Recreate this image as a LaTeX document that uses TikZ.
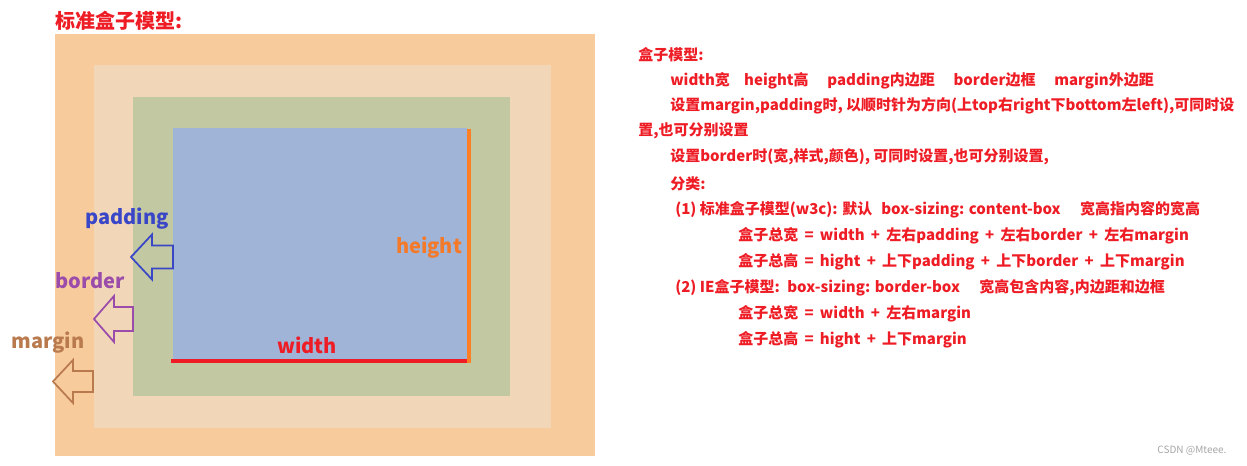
\documentclass[tikz,border=0pt]{standalone}
\usepackage{fontspec}
\setmainfont{Noto Sans CJK SC}
\definecolor{marginbg}{HTML}{F8CB9D}
\definecolor{borderbg}{HTML}{F1D6B7}
\definecolor{paddingbg}{HTML}{C2C8A1}
\definecolor{contentbg}{HTML}{9FB4D6}
\definecolor{boxred}{HTML}{EE1C25}
\definecolor{lineorange}{HTML}{FF7F27}
\definecolor{tagorange}{HTML}{F47A2A}
\definecolor{padblue}{HTML}{3A46C8}
\definecolor{borderpurple}{HTML}{9B4CAB}
\definecolor{marginbrown}{HTML}{B97A4E}
\begin{document}
\begin{tikzpicture}[x=0.75pt, y=-0.75pt,
    note/.style={anchor=west, inner sep=0pt, text=boxred, font=\fontsize{11.25}{13}\selectfont\bfseries},
    sum/.style={note, execute at begin node={\spaceskip=0.42em\relax}},
    tag/.style={inner sep=0pt, font=\fontsize{15}{18}\selectfont\bfseries},
    hollow/.style={line width=1.3pt, line join=miter}]
    \useasboundingbox (0,0) rectangle (1247,466);

    % Title
    \node[anchor=west, inner sep=0pt, text=boxred, font=\fontsize{15}{18}\selectfont\bfseries] (title) at (55,21) {标准盒子模型:};

    % Nested boxes: margin, border, padding, content
    \fill[marginbg] (55,34) rectangle (595,456);
    \fill[borderbg] (94,65) rectangle (551,428);
    \fill[paddingbg] (133,97) rectangle (510,396);
    \fill[contentbg] (173,128) rectangle (467,360);

    % Content edges
    \draw[boxred, line width=3pt] (171,361) -- (467,361);
    \draw[lineorange, line width=3pt] (469,129) -- (469,363);
    \node[tag, text=boxred] (width) at (307,345) {width};
    \node[tag, text=tagorange] (height) at (429,248) {height};

    % Side labels with hollow arrows
    \node[tag, text=padblue] (padding) at (127,219) {padding};
    \draw[hollow, padblue] (131,257) -- ++(21,-22.5) -- ++(0,11) -- ++(21,0) -- ++(0,23) -- ++(-21,0) -- ++(0,11) -- cycle;

    \node[tag, text=borderpurple] (border) at (90,281) {border};
    \draw[hollow, borderpurple] (94,319) -- ++(20,-23) -- ++(0,11) -- ++(19,0) -- ++(0,24) -- ++(-19,0) -- ++(0,11) -- cycle;

    \node[tag, text=marginbrown] (margin) at (48,343) {margin};
    \draw[hollow, marginbrown] (53,381.5) -- ++(20,-21.5) -- ++(0,11) -- ++(20,0) -- ++(0,21) -- ++(-20,0) -- ++(0,11) -- cycle;

    % Notes
    \node[note] (n1) at (638,55) {盒子模型:};
    \node[note] (n2) at (670,81) {width宽\hspace{0.95em}height高\hspace{1.25em}padding内边距\hspace{1.25em}border边框\hspace{1.25em}margin外边距};
    \node[note] (n3) at (670,106) {设置margin,padding时, 以顺时针为方向(上top右right下bottom左left),可同时设};
    \node[note] (n4) at (638,131) {置,也可分别设置};
    \node[note] (n5) at (670,157) {设置border时(宽,样式,颜色), 可同时设置,也可分别设置,};
    \node[note] (n6) at (670,184) {分类:};
    \node[note] (n7) at (675,210) {(1) 标准盒子模型(w3c): 默认\hspace{0.6em}box-sizing: content-box\hspace{1.3em}宽高指内容的宽高};
    \node[sum] (n8) at (738,236) {盒子总宽 = width + 左右padding + 左右border + 左右margin};
    \node[sum] (n9) at (738,262) {盒子总高 = hight + 上下padding + 上下border + 上下margin};
    \node[note] (n10) at (675,288) {(2) IE盒子模型:\hspace{0.5em}box-sizing: border-box\hspace{1.3em}宽高包含内容,内边距和边框};
    \node[sum] (n11) at (738,314) {盒子总宽 = width + 左右margin};
    \node[sum] (n12) at (738,340) {盒子总高 = hight + 上下margin};

    % Watermark
    \node[inner sep=0pt, text=gray!70, font=\fontsize{7.5}{9}\selectfont] (mark) at (1192,451) {CSDN @Mteee.};
\end{tikzpicture}
\end{document}
